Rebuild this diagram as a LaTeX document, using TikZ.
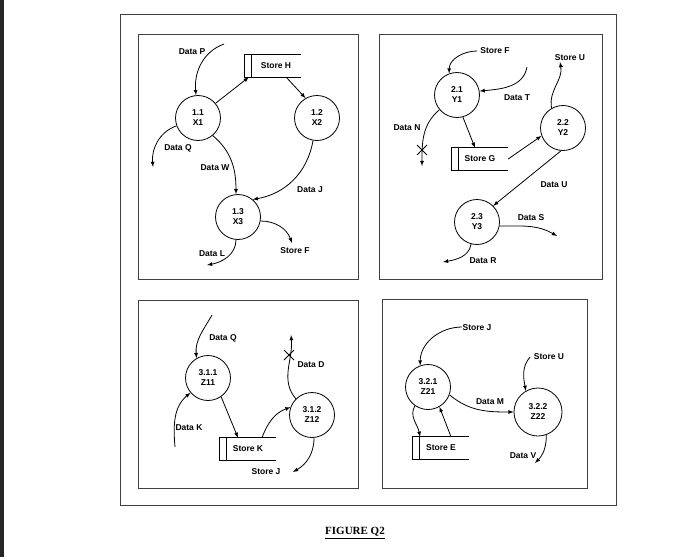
\documentclass[tikz,border=0pt]{standalone}
\usepackage{fontspec}
\setmainfont{Liberation Serif}
\newfontfamily\dfdfont{Liberation Sans}
\usepackage{tikz}
\usetikzlibrary{arrows}

\tikzset{
	proc/.style={circle,draw,thick,minimum size=45pt,inner sep=0pt,align=center,font=\dfdfont\bfseries\fontsize{8.5}{10}\selectfont},
	store/.style={minimum width=56pt,minimum height=22pt,inner sep=0pt,font=\dfdfont\bfseries\fontsize{8.5}{10}\selectfont},
	lbl/.style={font=\dfdfont\bfseries\fontsize{8.5}{10}\selectfont,inner sep=1pt},
	flow/.style={thick,-latex},
	panel/.style={draw,thick,black!75}
}
\newcommand{\storebox}[1]{%
	\draw[thick] (#1.north east) -- (#1.north west) -- (#1.south west) -- (#1.south east);
	\draw[thick] ([xshift=7pt]#1.north west) -- ([xshift=7pt]#1.south west);}
\newcommand{\crossmark}[1]{%
	\draw[thick] (#1) +(-5,-5) -- +(5,5) (#1) +(-5,5) -- +(5,-5);}

\begin{document}
\begin{tikzpicture}[x=1pt,y=-1pt]
	\useasboundingbox (0,0) rectangle (700,557);
	\fill[black!85] (0,0) rectangle (4,557);
	\draw[panel] (120,14) rectangle (616,505);
	\draw[panel] (138,34) rectangle (358,279);
	\draw[panel] (379,34) rectangle (602,279);
	\draw[panel] (138,300) rectangle (358,488);
	\draw[panel] (382,299) rectangle (587,488);

	% panel 1
	\node[proc] (x1) at (198,118) {1.1\\X1};
	\node[proc] (x2) at (317,118) {1.2\\X2};
	\node[proc] (x3) at (238,217) {1.3\\X3};
	\node[store] (sH) at (273,66) {\hspace*{6pt}Store H};
	\storebox{sH}
	\coordinate (inP) at (224,44);
	\coordinate (outQ) at (153,167);
	\coordinate (outF) at (292,243);
	\coordinate (outL) at (207,265);
	\draw[flow] (inP) to[out=200,in=95] (x1.95);
	\draw[flow] (x1.40) -- ([xshift=4pt]sH.south west);
	\draw[flow] ([xshift=-15pt]sH.south east) -- (x2.120);
	\draw[flow] (x1.200) to[out=200,in=95] (outQ);
	\draw[flow] (x1.-50) to[out=-40,in=90] (x3.95);
	\draw[flow] (x2.-100) to[out=-100,in=10] (x3.50);
	\draw[flow] (x3.-10) to[out=0,in=110] (outF);
	\draw[flow] (x3.-95) to[out=-90,in=10] (outL);
	\node[lbl] at (192,52) {Data P};
	\node[lbl] at (178,148) {Data Q};
	\node[lbl] at (215,168) {Data W};
	\node[lbl] at (310,190) {Data J};
	\node[lbl] at (295,251) {Store F};
	\node[lbl] at (212,254) {Data L};

	% panel 2
	\node[proc] (y1) at (457,95) {2.1\\Y1};
	\node[proc] (y2) at (563,128) {2.2\\Y2};
	\node[proc] (y3) at (477,222) {2.3\\Y3};
	\node[store] (sG) at (480,159) {Store G};
	\storebox{sG}
	\coordinate (inF) at (477,51);
	\coordinate (inT) at (527,67);
	\coordinate (outU) at (560,62);
	\coordinate (outN) at (422,166);
	\coordinate (xN) at (422,150);
	\coordinate (outS) at (557,236);
	\coordinate (outR) at (443,262);
	\draw[flow] (inF) to[out=180,in=90] (y1.110);
	\draw[flow] (inT) to[out=-100,in=5] (y1.10);
	\draw[flow] (y2.120) to[out=100,in=-80] (outU);
	\draw[flow] (y1.-75) -- ([xshift=-5pt]sG.north);
	\draw[flow] (sG.east) -- (y2.200);
	\draw[flow] (y1.220) to[out=220,in=90] (outN);
	\crossmark{xN}
	\draw[flow] (y2.-95) -- (y3.45);
	\draw[flow] (y3.-10) to[out=0,in=150] (outS);
	\draw[flow] (y3.-105) to[out=-100,in=10] (outR);
	\node[lbl] at (495,51) {Store F};
	\node[lbl] at (517,98) {Data T};
	\node[lbl] at (570,58) {Store U};
	\node[lbl] at (407,128) {Data N};
	\node[lbl] at (554,185) {Data U};
	\node[lbl] at (531,218) {Data S};
	\node[lbl] at (483,261) {Data R};

	% panel 3
	\node[proc] (z11) at (208,378) {3.1.1\\Z11};
	\node[proc] (z12) at (312,415) {3.1.2\\Z12};
	\node[store] (sK) at (248,449) {Store K};
	\storebox{sK}
	\coordinate (inQ) at (212,315);
	\coordinate (inK) at (175,447);
	\coordinate (outD) at (291,335);
	\coordinate (xD) at (289,355);
	\coordinate (outJ) at (293,472);
	\draw[flow] (inQ) to[out=240,in=95] (z11.120);
	\draw[flow] (inK) to[out=95,in=220] (z11.220);
	\draw[flow] (z11.-55) -- ([xshift=-10pt]sK.north);
	\draw[flow] ([xshift=14pt]sK.north) to[out=70,in=200] (z12.160);
	\draw[flow] (z12.135) to[out=130,in=-85] (outD);
	\crossmark{xD}
	\draw[flow] (z12.-85) to[out=-90,in=30] (outJ);
	\node[lbl] at (223,338) {Data Q};
	\node[lbl] at (189,428) {Data K};
	\node[lbl] at (311,365) {Data D};
	\node[lbl] at (266,472) {Store J};

	% panel 4
	\node[proc] (z21) at (428,387) {3.2.1\\Z21};
	\node[proc,minimum size=48pt] (z22) at (538,412) {3.2.2\\Z22};
	\node[store] (sE) at (441,448) {Store E};
	\storebox{sE}
	\coordinate (inJ) at (462,327);
	\coordinate (inU) at (530,357);
	\coordinate (outV) at (535,463);
	\draw[flow] (inJ) to[out=180,in=90] (z21.110);
	\draw[flow] (inU) to[out=230,in=100] (z22.120);
	\draw[flow] (z21.235) to[out=240,in=100] ([xshift=-21pt]sE.north);
	\draw[flow] ([xshift=10pt]sE.north) -- (z21.-60);
	\draw[flow] (z21.-20) to[out=-40,in=180] (z22.west);
	\draw[flow] (z22.-70) to[out=-90,in=45] (outV);
	\node[lbl] at (477,328) {Store J};
	\node[lbl] at (549,357) {Store U};
	\node[lbl] at (490,402) {Data M};
	\node[lbl] at (523,456) {Data V};

	\node[font=\bfseries\fontsize{11}{13}\selectfont] (title) at (355,533) {\underline{FIGURE Q2}};
\end{tikzpicture}
\end{document}
